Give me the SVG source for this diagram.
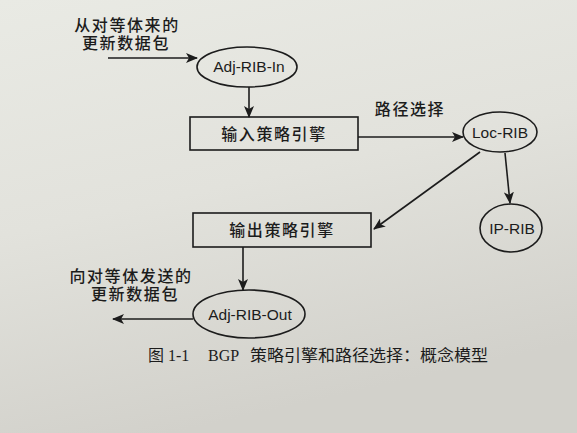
<svg xmlns="http://www.w3.org/2000/svg" width="577" height="433" viewBox="0 0 577 433">
<defs>
<linearGradient id="bg" x1="0" y1="0" x2="0.3" y2="1">
<stop offset="0" stop-color="#e9eae4"/>
<stop offset="0.5" stop-color="#e2e2dc"/>
<stop offset="1" stop-color="#d2d1cb"/>
</linearGradient>
<marker id="ah" markerWidth="12" markerHeight="10" refX="11" refY="5" orient="auto" markerUnits="userSpaceOnUse">
<path d="M0,0 L12,5 L0,10 L3,5 z" fill="#1c1c1c"/>
</marker>
<style>
.node{fill:none;stroke:#1c1c1c;stroke-width:1.6}
.en{font-family:"Liberation Sans","DejaVu Sans",sans-serif;font-size:15.5px;fill:#1c1c1c;text-anchor:middle}
.zh{font-family:"Noto Sans CJK SC","Liberation Sans",sans-serif;font-size:16px;font-weight:500;fill:#1c1c1c;text-anchor:middle;letter-spacing:1.6px}
.zh2{font-family:"Liberation Sans","Noto Sans CJK SC",sans-serif;font-size:16px;font-weight:500;fill:#1c1c1c;text-anchor:middle;letter-spacing:1.6px}
.cap{font-family:"Liberation Serif","Noto Sans CJK SC",serif;font-size:16px;fill:#1c1c1c}
.capzh{font-family:"Noto Sans CJK SC",serif;font-size:16px;fill:#1c1c1c}
.edge{stroke:#1c1c1c;stroke-width:1.6;fill:none;marker-end:url(#ah)}
</style>
</defs>
<rect x="0" y="0" width="577" height="433" fill="url(#bg)"/>

<g id="connectors">
<line class="edge" x1="108" y1="58" x2="197" y2="58"/>
<line class="edge" x1="249" y1="87" x2="249" y2="117"/>
<line class="edge" x1="358" y1="137" x2="463" y2="137"/>
<line class="edge" x1="505" y1="153" x2="510" y2="203"/>
<line class="edge" x1="480" y1="152" x2="374" y2="229"/>
<line class="edge" x1="243" y1="247" x2="243" y2="290"/>
<line class="edge" x1="193" y1="319" x2="113" y2="319"/>
</g>

<g id="label-in">
<text class="zh2" x="127" y="31">从对等体来的</text>
<text class="zh2" x="126" y="49">更新数据包</text>
</g>

<g id="adj-rib-in">
<ellipse class="node" cx="247" cy="67" rx="50" ry="20"/>
<text class="en" x="249" y="72">Adj-RIB-In</text>
</g>

<g id="input-policy">
<rect class="node" x="190" y="117" width="168" height="33"/>
<text class="zh" x="274" y="140">输入策略引擎</text>
</g>

<g id="label-path">
<text class="zh" x="410" y="115">路径选择</text>
</g>

<g id="loc-rib">
<ellipse class="node" cx="500" cy="132" rx="37" ry="20"/>
<text class="en" x="500" y="138">Loc-RIB</text>
</g>

<g id="ip-rib">
<ellipse class="node" cx="511" cy="228" rx="31" ry="24"/>
<text class="en" x="512" y="234">IP-RIB</text>
</g>

<g id="output-policy">
<rect class="node" x="193" y="213" width="178" height="34"/>
<text class="zh" x="282" y="236">输出策略引擎</text>
</g>

<g id="label-out">
<text class="zh2" x="131" y="282">向对等体发送的</text>
<text class="zh2" x="135" y="300">更新数据包</text>
</g>

<g id="adj-rib-out">
<ellipse class="node" cx="249" cy="314" rx="56" ry="24"/>
<text class="en" x="250" y="320">Adj-RIB-Out</text>
</g>

<g id="caption">
<text class="capzh" x="148" y="361">图</text>
<text class="cap" x="168" y="361">1-1</text>
<text class="cap" x="208" y="361">BGP</text>
<text class="capzh" x="250" y="361" textLength="238" lengthAdjust="spacingAndGlyphs">策略引擎和路径选择：概念模型</text>
</g>
</svg>
